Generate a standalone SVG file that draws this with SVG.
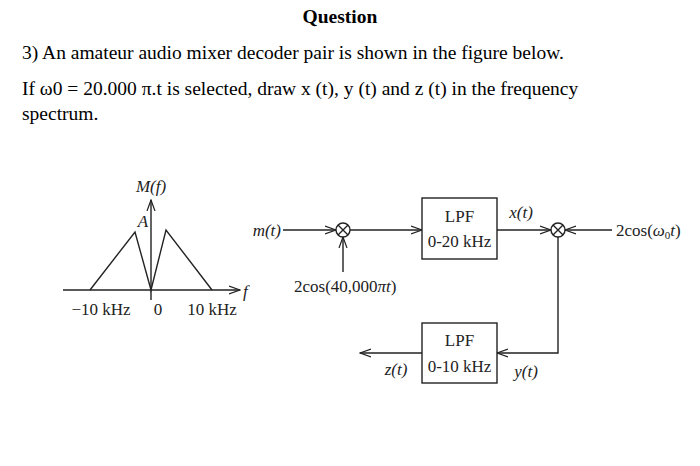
<svg xmlns="http://www.w3.org/2000/svg" width="700" height="466" viewBox="0 0 700 466">
<defs>
<marker id="ar" markerWidth="12" markerHeight="10" refX="11" refY="5" orient="auto" markerUnits="userSpaceOnUse"><path d="M0,1 L11,5 L0,9" fill="none" stroke="#222" stroke-width="1.2"/></marker>
</defs>
<style>
.t{font-family:"Liberation Serif",serif;fill:#000}
.h{font-size:19.5px}
.d{font-size:17px;fill:#222}
.i{font-style:italic}
.l{stroke:#222;stroke-width:1.4;fill:none}
.b{stroke:#222;stroke-width:1.4;fill:#fff}
</style>
<rect width="700" height="466" fill="#fff"/>
<text class="t h" x="340" y="23" text-anchor="middle" font-weight="bold">Question</text>
<text class="t h" x="22" y="59">3) An amateur audio mixer decoder pair is shown in the figure below.</text>
<text class="t h" x="22" y="95">If   ω0 = 20.000 π.t is selected, draw x (t), y (t) and z (t) in the frequency</text>
<text class="t h" x="22" y="120">spectrum.</text>
<g id="spectrum">
<line class="l" x1="63" y1="290" x2="240" y2="290" marker-end="url(#ar)"/>
<line class="l" x1="151" y1="300" x2="151" y2="200" marker-end="url(#ar)"/>
<polyline class="l" points="90,290 135,232 151,290 166,230 212,290"/>
<text class="t d i" x="151" y="192" text-anchor="middle">M(f)</text>
<text class="t d i" x="143" y="227" text-anchor="middle" font-size="14">A</text>
<text class="t d i" x="243" y="297">f</text>
<text class="t d" x="101" y="315" text-anchor="middle">−10 kHz</text>
<text class="t d" x="158" y="315" text-anchor="middle">0</text>
<text class="t d" x="212" y="315" text-anchor="middle">10 kHz</text>
</g>
<g id="connectors">
<line class="l" x1="283" y1="230" x2="336" y2="230" marker-end="url(#ar)"/>
<line class="l" x1="343" y1="272" x2="343" y2="237" marker-end="url(#ar)"/>
<line class="l" x1="350" y1="230" x2="422" y2="230" marker-end="url(#ar)"/>
<line class="l" x1="497" y1="230" x2="551" y2="230" marker-end="url(#ar)"/>
<line class="l" x1="612" y1="230" x2="565" y2="230" marker-end="url(#ar)"/>
<polyline class="l" points="558,237 558,353 497,353" marker-end="url(#ar)"/>
<line class="l" x1="422" y1="353" x2="360" y2="353" marker-end="url(#ar)"/>
</g>
<g id="mixer1"><circle class="b" cx="343" cy="230" r="7"/><path class="l" d="M338,225 L348,235 M348,225 L338,235"/></g>
<g id="mixer2"><circle class="b" cx="558" cy="230" r="7"/><path class="l" d="M553,225 L563,235 M563,225 L553,235"/></g>
<g id="lpf1"><rect class="b" x="422" y="198" width="75" height="61"/>
<text class="t d" x="459.500" y="222" text-anchor="middle">LPF</text>
<text class="t d" x="459.500" y="247" text-anchor="middle">0-20 kHz</text></g>
<g id="lpf2"><rect class="b" x="422" y="323" width="75" height="60"/>
<text class="t d" x="459.500" y="346" text-anchor="middle">LPF</text>
<text class="t d" x="459.500" y="372" text-anchor="middle">0-10 kHz</text></g>
<text class="t d i" x="281" y="236" text-anchor="end">m(t)</text>
<text class="t d" x="294" y="292">2cos(40,000<tspan font-style="italic">πt</tspan>)</text>
<text class="t d i" x="521" y="218" text-anchor="middle">x(t)</text>
<text class="t d" x="616" y="236">2cos(<tspan font-style="italic">ω</tspan><tspan font-size="11" dy="3">0</tspan><tspan font-style="italic" dy="-3">t</tspan>)</text>
<text class="t d i" x="396" y="375" text-anchor="middle">z(t)</text>
<text class="t d i" x="526" y="377" text-anchor="middle">y(t)</text>
</svg>
